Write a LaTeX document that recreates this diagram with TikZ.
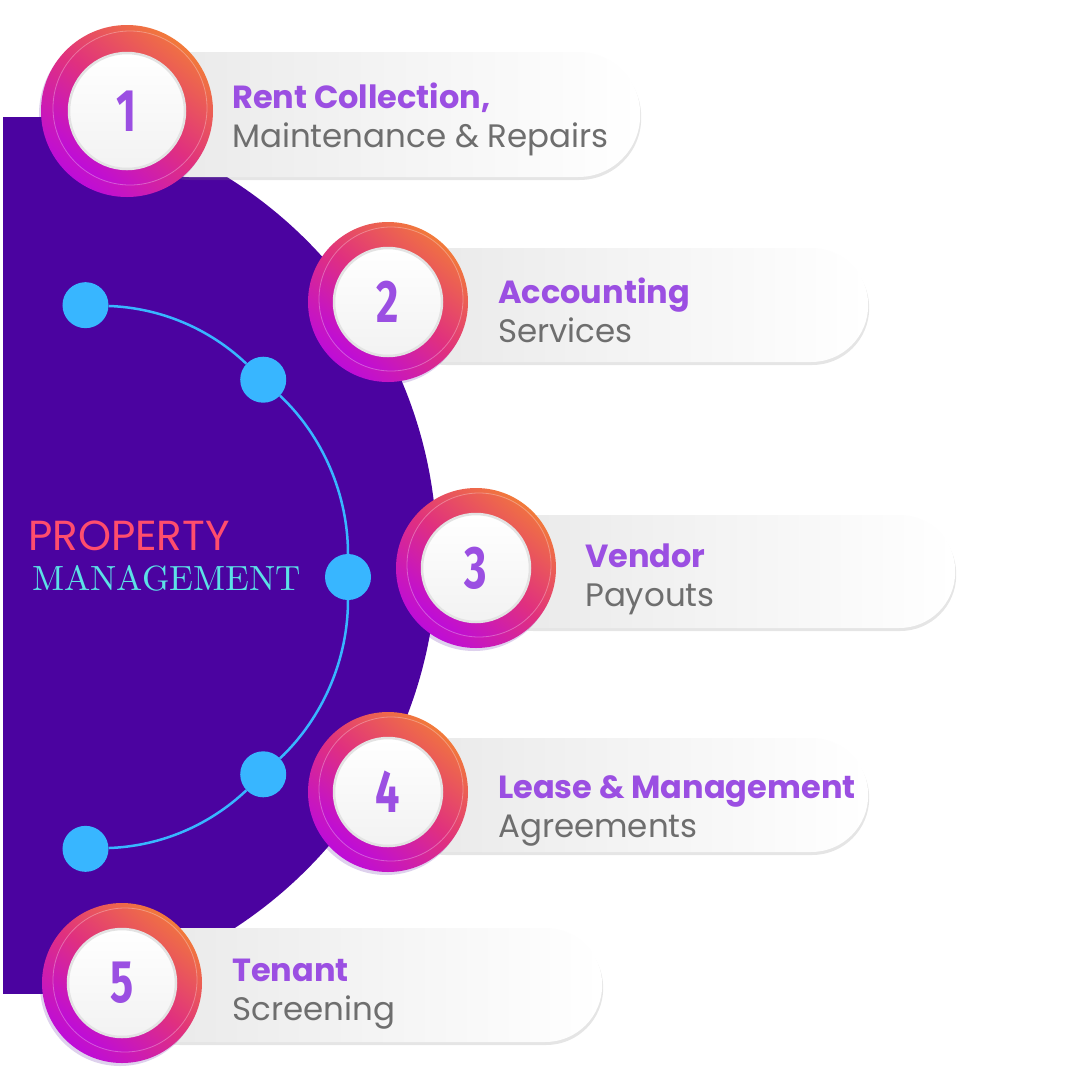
\documentclass[tikz,border=0pt]{standalone}
\usepackage{fontspec}
\usepackage{tikz}
\usetikzlibrary{positioning, shadows}
\newfontfamily\popfont{Poppins}
\newfontfamily\numfont[FakeStretch=0.72]{Fira Sans}
\newfontfamily\displayserif{lmroman10-regular.otf}
\definecolor{deepviolet}{HTML}{4B03A0}
\definecolor{dotblue}{HTML}{38B6FF}
\definecolor{headviolet}{HTML}{9B4FE2}
\definecolor{bodygray}{HTML}{6E6E6E}
\definecolor{ringorange}{HTML}{F27A3A}
\definecolor{ringpink}{HTML}{E0307F}
\definecolor{ringmagenta}{HTML}{BE0CD8}
\definecolor{proprose}{HTML}{FF4D6D}
\definecolor{mgmtcyan}{HTML}{5CE1E6}

\begin{document}
\begin{tikzpicture}[x=1pt, y=1pt,
    card/.style={rectangle, inner sep=0pt, left color=black!9, right color=white,
        drop shadow={shadow xshift=1pt, shadow yshift=-3pt, opacity=0.2}},
    ringout/.style={circle, inner sep=0pt, top color=ringorange, bottom color=ringmagenta,
        middle color=ringpink, shading angle=-40,
        drop shadow={shadow xshift=-2pt, shadow yshift=-3pt, fill=deepviolet, opacity=0.18}},
    ringin/.style={circle, inner sep=0pt, top color=ringorange!85!ringpink, bottom color=ringmagenta,
        middle color=ringpink, shading angle=-40, draw=white, draw opacity=0.3, line width=0.8pt},
    disk/.style={circle, inner sep=0pt, top color=white, bottom color=black!5, draw=black!11,
        line width=2.5pt, text=headviolet, font=\numfont\bfseries\fontsize{60}{60}\selectfont},
    headtext/.style={anchor=base west, inner sep=0pt, text=headviolet,
        font=\popfont\bfseries\fontsize{32}{36}\selectfont},
    bodytext/.style={anchor=base west, inner sep=0pt, text=bodygray,
        font=\popfont\fontsize{32.5}{36}\selectfont},
    dot/.style={circle, fill=dotblue, inner sep=0pt, minimum size=46pt},
    arcline/.style={dotblue, line width=2.5pt, looseness=0.88}
]
    \useasboundingbox (0,0) rectangle (1080,-1080);
    \fill[white] (0,0) rectangle (1080,-1080);

    % Backdrop
    \begin{scope}
        \clip (3,-117) rectangle (1080,-993);
        \fill[deepviolet] (-8,-555) circle[radius=445pt];
    \end{scope}

    % Arc of dots
    \coordinate (hub) at (76,-577);
    \node[dot] (d1) at ([shift={(88:272pt)}]hub) {};
    \node[dot] (d2) at ([shift={(46.5:272pt)}]hub) {};
    \node[dot] (d3) at ([shift={(0:272pt)}]hub) {};
    \node[dot] (d4) at ([shift={(-46.5:272pt)}]hub) {};
    \node[dot] (d5) at ([shift={(-88:272pt)}]hub) {};
    \draw[arcline] (d1) to[bend left=20.75] (d2);
    \draw[arcline] (d2) to[bend left=23.25] (d3);
    \draw[arcline] (d3) to[bend left=23.25] (d4);
    \draw[arcline] (d4) to[bend left=20.75] (d5);

    % Title
    \node[anchor=base west, inner sep=0pt, text=proprose, font=\popfont\fontsize{42}{44}\selectfont]
        (prop) at (28,-550) {PROPERTY};
    \node[anchor=base west, inner sep=0pt, text=mgmtcyan, font=\displayserif\fontsize{35}{40}\selectfont]
        (mgmt) at (32,-590) {MANAGEMENT};

    % Step 1
    \node[card, anchor=west, minimum width=513pt, minimum height=125pt, rounded corners=62pt] (c1) at (127,-114.5) {};
    \node[ringout, minimum size=172pt] (r1) at (127,-111) {};
    \node[ringin, minimum size=154pt] at ([shift={(3,3)}]r1) {};
    \node[disk, minimum size=116pt] (n1) at (r1) {1};
    \node[headtext] (h1) at (232,-108) {Rent Collection,};
    \node[bodytext] (b1) at ([yshift=-39pt]h1.base west) {Maintenance \& Repairs};

    % Step 2
    \node[card, anchor=west, minimum width=480pt, minimum height=114pt, rounded corners=57pt] (c2) at (388,-305) {};
    \node[ringout, minimum size=160pt] (r2) at (388,-302) {};
    \node[ringin, minimum size=144pt] at ([shift={(3,3)}]r2) {};
    \node[disk, minimum size=108pt] (n2) at (r2) {2};
    \node[headtext] (h2) at (498,-303) {Accounting};
    \node[bodytext] (b2) at ([yshift=-39pt]h2.base west) {Services};

    % Step 3
    \node[card, anchor=west, minimum width=479pt, minimum height=113pt, rounded corners=56pt] (c3) at (476,-571.5) {};
    \node[ringout, minimum size=160pt] (r3) at (476,-568) {};
    \node[ringin, minimum size=144pt] at ([shift={(3,3)}]r3) {};
    \node[disk, minimum size=108pt] (n3) at (r3) {3};
    \node[headtext] (h3) at (585,-567) {Vendor};
    \node[bodytext] (b3) at ([yshift=-39pt]h3.base west) {Payouts};

    % Step 4
    \node[card, anchor=west, minimum width=480pt, minimum height=114pt, rounded corners=57pt] (c4) at (388,-795) {};
    \node[ringout, minimum size=160pt] (r4) at (388,-792) {};
    \node[ringin, minimum size=144pt] at ([shift={(3,3)}]r4) {};
    \node[disk, minimum size=108pt] (n4) at (r4) {4};
    \node[headtext] (h4) at (498,-798) {Lease \& Management};
    \node[bodytext] (b4) at ([yshift=-39pt]h4.base west) {Agreements};

    % Step 5
    \node[card, anchor=west, minimum width=480pt, minimum height=114pt, rounded corners=57pt] (c5) at (122,-985) {};
    \node[ringout, minimum size=160pt] (r5) at (122,-983) {};
    \node[ringin, minimum size=144pt] at ([shift={(3,3)}]r5) {};
    \node[disk, minimum size=108pt] (n5) at (r5) {5};
    \node[headtext] (h5) at (232,-981) {Tenant};
    \node[bodytext] (b5) at ([yshift=-39pt]h5.base west) {Screening};
\end{tikzpicture}
\end{document}
